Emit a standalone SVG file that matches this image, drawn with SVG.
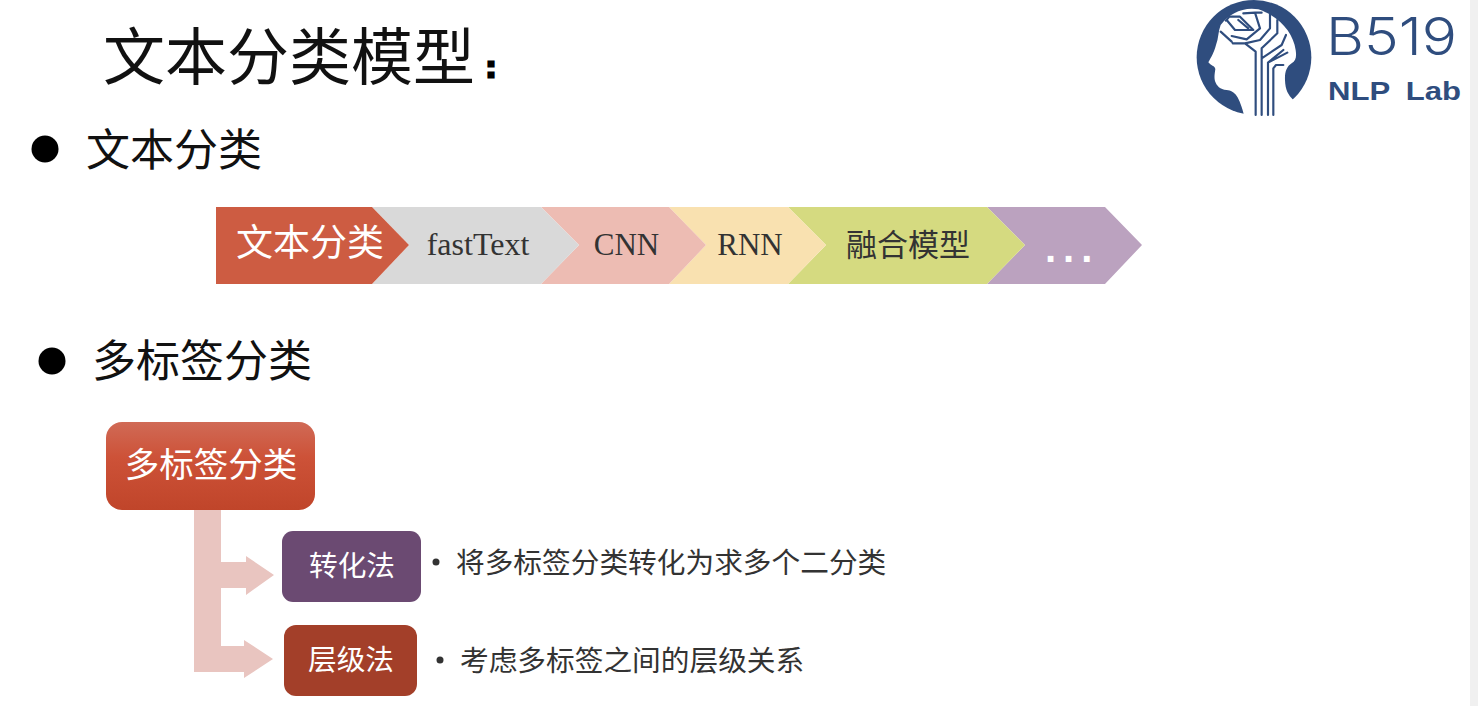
<svg xmlns="http://www.w3.org/2000/svg" width="1478" height="706" viewBox="0 0 1478 706">
<style>
.cjk{font-family:"Liberation Serif","Noto Sans CJK SC",serif}
.sans{font-family:"Noto Sans CJK SC","Noto Sans",sans-serif}
.dark{fill:#111}
.w{fill:#fff}
.g{fill:#333}
.m{text-anchor:middle}
.c{fill:none;stroke:#2f4d7e;stroke-width:6.5;stroke-linecap:round;stroke-linejoin:round}
</style>
<defs>
<linearGradient id="redg" x1="0" y1="0" x2="0" y2="1">
<stop offset="0" stop-color="#d06a56"/><stop offset="0.4" stop-color="#cd5238"/><stop offset="1" stop-color="#c0452a"/>
</linearGradient>
</defs>
<rect width="1478" height="706" fill="#fff"/>
<rect x="1470" y="0" width="8" height="706" fill="#f0f0f0"/>
<g id="title"><text class="sans dark" x="103" y="80" font-size="62">文本分类模型<tspan x="486" y="77" font-family="'Liberation Sans',sans-serif" font-size="30" font-weight="700" fill="#000" stroke="#000" stroke-width="3">:</tspan></text></g>
<g id="bullet1"><circle cx="45" cy="149" r="13.5" fill="#000"/><text class="sans dark" x="86" y="166" font-size="44">文本分类</text></g>
<g id="bullet2"><circle cx="52" cy="361" r="13.5" fill="#000"/><text class="sans dark" x="92" y="377" font-size="44">多标签分类</text></g>
<g id="logo">
<g transform="translate(1190 0) scale(0.3333)">
<circle cx="192" cy="172" r="172" fill="#2f4d7e"/>
<path fill="#fff" d="M92 75C84 95 86 115 78 135C72 158 63 172 55 187C62 197 75 198 76 207C74 222 72 232 75 243C80 258 90 268 110 270C135 272 148 290 163 348L270 360L310 300C295 285 286 270 285 240C284 215 290 200 305 190C318 182 320 170 317 150C310 100 270 50 205 28C160 20 118 40 92 75Z"/>
<path class="c" d="M197 345V155L165 130H128M215 345V175M234 345V188L292 158M250 345V205L258 195H280M215 175V145L262 100V60M215 175L275 135L288 105M234 188L280 150M165 130L210 120L240 85V35M125 108L170 118L210 85L195 38L160 40M110 60L135 90H190L150 50H118L108 62M145 60L175 85M92 95L125 125M195 38H215"/>
</g>
<text x="1326" y="55" font-family="Inter,'Liberation Sans',sans-serif" font-size="52" fill="#2f4d7e" font-weight="300" textLength="131" lengthAdjust="spacingAndGlyphs">B519</text>
<text x="1328" y="100" font-family="'Liberation Sans',sans-serif" font-size="25" font-weight="700" fill="#2f4d7e" textLength="133" lengthAdjust="spacingAndGlyphs" style="word-spacing:6px">NLP Lab</text>
</g>
<g id="chevron-more"><path fill="#bba2bf" d="M987 207H1105L1142 245L1105 284H987L1025 245Z"/><text x="1045" y="262" font-family="'Liberation Sans',sans-serif" font-size="40" fill="#fff" font-weight="700" letter-spacing="7">...</text></g>
<g id="chevron-fusion"><path fill="#d5da80" d="M788 207H987L1025 245L987 284H788L826 245Z"/><text class="cjk g m" x="908" y="256" font-size="31">融合模型</text></g>
<g id="chevron-rnn"><path fill="#f9e1b0" d="M669 207H788L826 245L788 284H669L706 245Z"/><text class="cjk g m" x="750" y="255" font-size="31">RNN</text></g>
<g id="chevron-cnn"><path fill="#edbcb3" d="M541 207H669L706 245L669 284H541L579 245Z"/><text class="cjk g m" x="626.500" y="255" font-size="31">CNN</text></g>
<g id="chevron-fasttext"><path fill="#d9d9d9" d="M372 207H541L579 245L541 284H372L409 245Z"/><text class="cjk g m" x="478" y="255" font-size="32">fastText</text></g>
<g id="chevron-text"><path fill="#cd5c42" d="M216 207H372L409 245L372 284H216Z"/><text class="cjk w m" x="310" y="256" font-size="37">文本分类</text></g>
<g id="connectors">
<path fill="#e9c5c0" d="M194 510H221V562H246V556L274 575L246 595V588H221V646H244V640L273 659L244 678V672H194Z"/>
</g>
<g id="root"><rect x="106" y="422" width="209" height="88" rx="16" fill="url(#redg)"/><text class="sans w m" x="211" y="477" font-size="34.500">多标签分类</text></g>
<g id="transform"><rect x="282" y="531" width="139" height="71" rx="11" fill="#6b4a72"/><text class="sans w m" x="352" y="576" font-size="28.700">转化法</text></g>
<g id="hierarchy"><rect x="284" y="625" width="133" height="71" rx="12" fill="#a33f29"/><text class="sans w m" x="351" y="670" font-size="28.700">层级法</text></g>
<g id="notes">
<circle cx="436" cy="562" r="3.500" fill="#333"/><text class="sans g" x="456" y="573" font-size="28.700">将多标签分类转化为求多个二分类</text>
<circle cx="440" cy="660" r="3.500" fill="#333"/><text class="sans g" x="460" y="671" font-size="28.700">考虑多标签之间的层级关系</text>
</g>
</svg>
